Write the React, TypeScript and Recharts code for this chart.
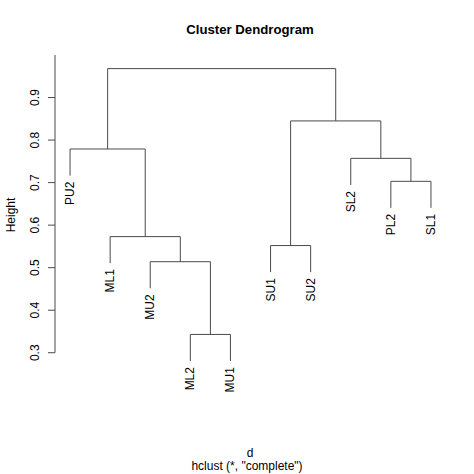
import React from "react";
import { ComposedChart, Line, Scatter, XAxis, YAxis, ReferenceLine } from "recharts";

// Leaves in dendrogram (plotting) order
const leafLabels = ["PU2", "ML1", "MU2", "ML2", "MU1", "SU1", "SU2", "SL2", "PL2", "SL1"];

// Merge table: negative = leaf position (1-based), positive = earlier merge step
const mergeLeft = [-4, -3, -6, -2, -9, -8, -1, 3, 7];
const mergeRight = [-5, 1, -7, 2, -10, 5, 4, 6, 8];
const mergeHeight = [0.343, 0.514, 0.552, 0.573, 0.703, 0.757, 0.779, 0.845, 0.968];

const heightTicks = [0.3, 0.4, 0.5, 0.6, 0.7, 0.8, 0.9];

const FONT = "'Liberation Sans', Arial, Helvetica, sans-serif";
const LINE = "#4a4a4a";

// Leaves hang below their parent by 10% of the height range
const hang = 0.1 * (Math.max(...mergeHeight) - Math.min(...mergeHeight));

type Pt = { x: number; y: number };

const mergeX: number[] = [];
const segments: Pt[][] = [];
const leafTips: { x: number; y: number; name: string }[] = [];

mergeHeight.forEach((h, i) => {
  const childX = (c: number) => (c < 0 ? -c : mergeX[c - 1]);
  const childY = (c: number) => (c < 0 ? h - hang : mergeHeight[c - 1]);
  const l = mergeLeft[i];
  const r = mergeRight[i];
  const xl = childX(l);
  const xr = childX(r);
  mergeX.push((xl + xr) / 2);
  segments.push([
    { x: xl, y: childY(l) },
    { x: xl, y: h },
    { x: xr, y: h },
    { x: xr, y: childY(r) },
  ]);
  [l, r].forEach((c) => {
    if (c < 0) leafTips.push({ x: -c, y: h - hang, name: leafLabels[-c - 1] });
  });
});

const LeafLabel = (props: any) => {
  const { cx, cy, payload } = props;
  const ay = cy + 6;
  return (
    <text
      x={cx}
      y={ay}
      transform={`rotate(-90, ${cx}, ${ay})`}
      textAnchor="end"
      dominantBaseline="central"
      fontFamily={FONT}
      fontSize={12}
      fill="#000"
    >
      {payload.name}
    </text>
  );
};

const HeightTick = (props: any) => {
  const { y, payload } = props;
  const tx = 35;
  return (
    <text
      x={tx}
      y={y}
      transform={`rotate(-90, ${tx}, ${y})`}
      textAnchor="middle"
      dominantBaseline="central"
      fontFamily={FONT}
      fontSize={12}
      fill="#000"
    >
      {payload.value.toFixed(1)}
    </text>
  );
};

export default function App() {
  return (
    <div style={{ position: "absolute", left: 0, top: 0, width: 474, height: 474, background: "#fff" }}>
      <ComposedChart width={474} height={474} margin={{ top: 55, right: 28, bottom: 100, left: 0 }}>
        <XAxis type="number" dataKey="x" domain={[0.625, 10.375]} hide />
        <YAxis
          type="number"
          dataKey="y"
          domain={[0.25, 1.0]}
          ticks={heightTicks}
          width={55}
          axisLine={false}
          tickSize={7}
          tickLine={{ stroke: LINE, strokeWidth: 1 }}
          tick={<HeightTick />}
        />
        <ReferenceLine
          segment={[
            { x: 0.625, y: 0.3 },
            { x: 0.625, y: 1.0 },
          ]}
          stroke={LINE}
          strokeWidth={1}
          ifOverflow="visible"
        />
        {segments.map((seg, i) => (
          <Line
            key={i}
            data={seg}
            dataKey="y"
            type="linear"
            stroke={LINE}
            strokeWidth={1}
            dot={false}
            activeDot={false}
            isAnimationActive={false}
          />
        ))}
        <Scatter data={leafTips} dataKey="y" shape={<LeafLabel />} isAnimationActive={false} />
        <text x={250} y={33.5} textAnchor="middle" fontFamily={FONT} fontSize={13.2} fontWeight="bold" fill="#000">
          Cluster Dendrogram
        </text>
        <text
          x={11}
          y={215}
          transform="rotate(-90, 11, 215)"
          textAnchor="middle"
          dominantBaseline="central"
          fontFamily={FONT}
          fontSize={12}
          fill="#000"
        >
          Height
        </text>
        <text x={250} y={457} textAnchor="middle" fontFamily={FONT} fontSize={12} fill="#000">
          d
        </text>
        <text x={247} y={469.5} textAnchor="middle" fontFamily={FONT} fontSize={12} fill="#000">
          hclust (*, "complete")
        </text>
      </ComposedChart>
    </div>
  );
}
